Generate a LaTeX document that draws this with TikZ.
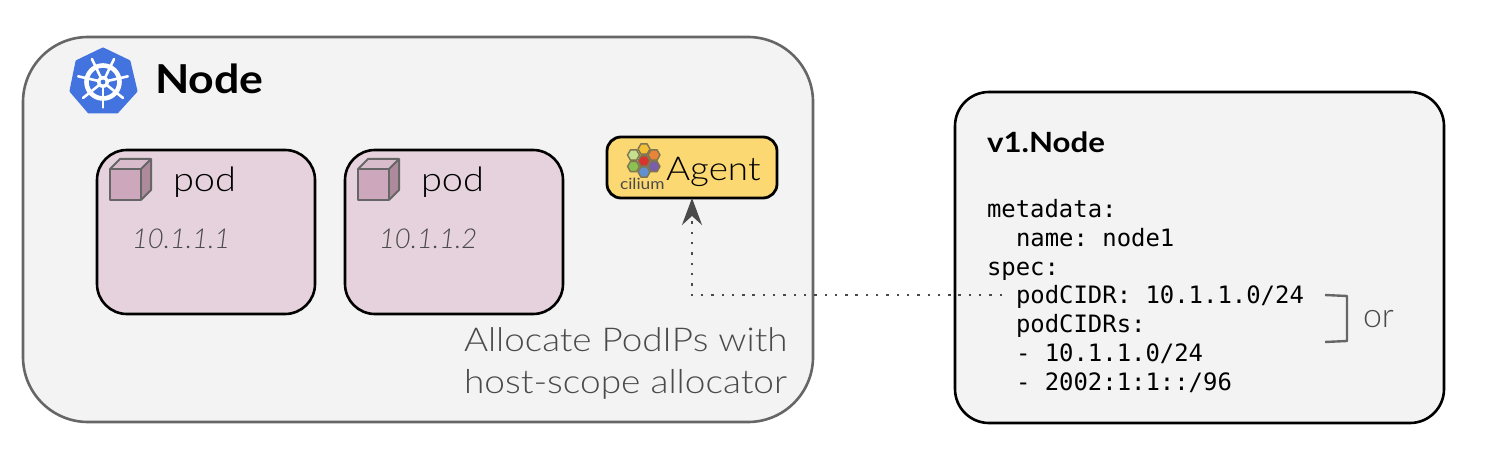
\documentclass[tikz,border=0pt]{standalone}
\usepackage{fontspec}
\setmainfont[FakeStretch=1.12]{Lato}
\newfontfamily\lightf[FakeStretch=1.12]{Lato Light}
\newfontfamily\lightn{Lato Light}
\setmonofont{DejaVu Sans Mono}
\usetikzlibrary{arrows.meta}
\definecolor{boxfill}{HTML}{F3F3F3}
\definecolor{edgegrey}{HTML}{666666}
\definecolor{podfill}{HTML}{E6D2DC}
\definecolor{agentfill}{HTML}{FBD872}
\definecolor{kblue}{HTML}{4273DE}
\definecolor{txtgrey}{HTML}{4A4A4A}
\definecolor{cubeF}{HTML}{CDA8BC}
\definecolor{cubeS}{HTML}{AD8A9C}
\definecolor{cubeT}{HTML}{D9BCCB}
\definecolor{hexedge}{HTML}{7F7550}
\newcommand{\fs}[1]{\fontsize{#1}{#1}\selectfont}
\tikzset{
  x=1bp,y=-1bp,
  lbl/.style={inner sep=0pt,outer sep=0pt,anchor=base west},
  boxn/.style={inner sep=0pt,outer sep=0pt,anchor=north west},
  podbox/.style={boxn,draw=black,line width=2.6bp,fill=podfill,rounded corners=30bp,minimum width=218bp,minimum height=164bp},
  code/.style={lbl,font=\ttfamily\fs{24}},
  cubeline/.style={draw=edgegrey,line width=2bp,line join=round},
}
\newcommand{\podcube}[1]{%
  \begin{scope}[shift={(#1,0)}]
    \fill[cubeT] (110,169) -- (120,159) -- (151,159) -- (141,169) -- cycle;
    \fill[cubeS] (141,169) -- (151,159) -- (151,190) -- (141,200) -- cycle;
    \draw[cubeline,fill=cubeF] (110,169) rectangle (141,200);
    \draw[cubeline] (110,169) -- (120,159) -- (151,159) -- (151,190) -- (141,200) (141,169) -- (151,159);
  \end{scope}}
\begin{document}
\begin{tikzpicture}
\useasboundingbox[fill=white] (0,0) rectangle (1488,454);
% outer boxes
\node[boxn,draw=edgegrey,line width=2.6bp,fill=boxfill,rounded corners=65bp,minimum width=790bp,minimum height=385bp] (node) at (23,37) {};
\node[boxn,draw=black,line width=2.6bp,fill=boxfill,rounded corners=34bp,minimum width=489bp,minimum height=331bp] (spec) at (955,92) {};
% pods
\node[podbox] (pod1) at (97,150) {};
\node[podbox] (pod2) at (345,150) {};
\podcube{0}
\podcube{248}
% agent
\node[boxn,draw=black,line width=2.8bp,fill=agentfill,rounded corners=14bp,minimum width=170bp,minimum height=61bp] (agent) at (607,137) {};
% k8s icon
\fill[kblue,line join=round,draw=kblue,line width=3bp]
  (103,49) -- (129,61.5) -- (136,91) -- (117,112) -- (89,112) -- (71,91) -- (77,61.5) -- cycle;
\draw[white,line width=4.6bp] (103,82) circle (16.5);
\foreach \a in {90,141.4,192.9,244.3,295.7,347.1,398.6}{
  \draw[white,line width=2.6bp,line cap=round] (103,82) -- ++(\a:25.5);
}
\fill[white] (103,82) circle (6);
\fill[kblue] (103,82) circle (2.4);
% cilium icon
\foreach \cx/\cy/\col in {644/161/D8342F,644/149/F2C037,654/155/E8833A,654/166.5/7A5EA8,644/172/6090D0,633.5/166.5/8CC152,633.5/155/C5DF8F}{
  \definecolor{hexc}{HTML}{\col}
  \draw[hexedge,fill=hexc,line width=1.4bp,line join=round] (\cx,\cy) ++(0:6) -- ++(120:6) -- ++(180:6) -- ++(240:6) -- ++(300:6) -- ++(0:6) -- cycle;
}
\node[lbl,font=\fs{15.5},text=txtgrey] (cil) at (620,190) {cilium};
% texts
\node[lbl,font=\bfseries\fs{40}] (nodetitle) at (155,94) {Node};
\node[lbl,font=\lightf\fs{34}] (pod1t) at (173,192) {pod};
\node[lbl,font=\lightf\fs{34}] (pod2t) at (421,192) {pod};
\node[lbl,font=\lightn\itshape\fs{27.5},text=txtgrey] (ip1) at (132,249) {10.1.1.1};
\node[lbl,font=\lightn\itshape\fs{27.5},text=txtgrey] (ip2) at (379,249) {10.1.1.2};
\node[lbl,font=\lightf\fs{33},text=black] (agentt) at (666,181) {Agent};
\node[lbl,font=\lightf\fs{33},text=txtgrey] (alloc1) at (464,352) {Allocate PodIPs with};
\node[lbl,font=\lightf\fs{33.2},text=txtgrey] (alloc2) at (464,393) {host-scope allocator};
\node[lbl,font=\bfseries\fs{28}] (v1) at (987,153) {v1.Node};
% yaml
\node[code] (y1) at (987,218) {metadata:};
\node[code] (y2) at (1016,247) {name: node1};
\node[code] (y3) at (987,276) {spec:};
\node[code] (y4) at (1016,304) {podCIDR: 10.1.1.0/24};
\node[code] (y5) at (1016,333) {podCIDRs:};
\node[code] (y6) at (1016,362) {- 10.1.1.0/24};
\node[code] (y7) at (1016,390) {- 2002:1:1::/96};
% or
\draw[edgegrey,line width=2.4bp,line join=round] (1325,295) -- (1347,296) -- (1347,341) -- (1325,342);
\node[lbl,font=\lightn\fs{34},text=txtgrey] (or) at (1363,328) {or};
% connector
\coordinate (cidr) at (1002,295);
\draw[txtgrey,line width=2.4bp,dash pattern=on 2.4bp off 7.9bp,-{Stealth[length=27bp,width=20bp,inset=9bp]}] (cidr) -| (agent.south);
\end{tikzpicture}
\end{document}
